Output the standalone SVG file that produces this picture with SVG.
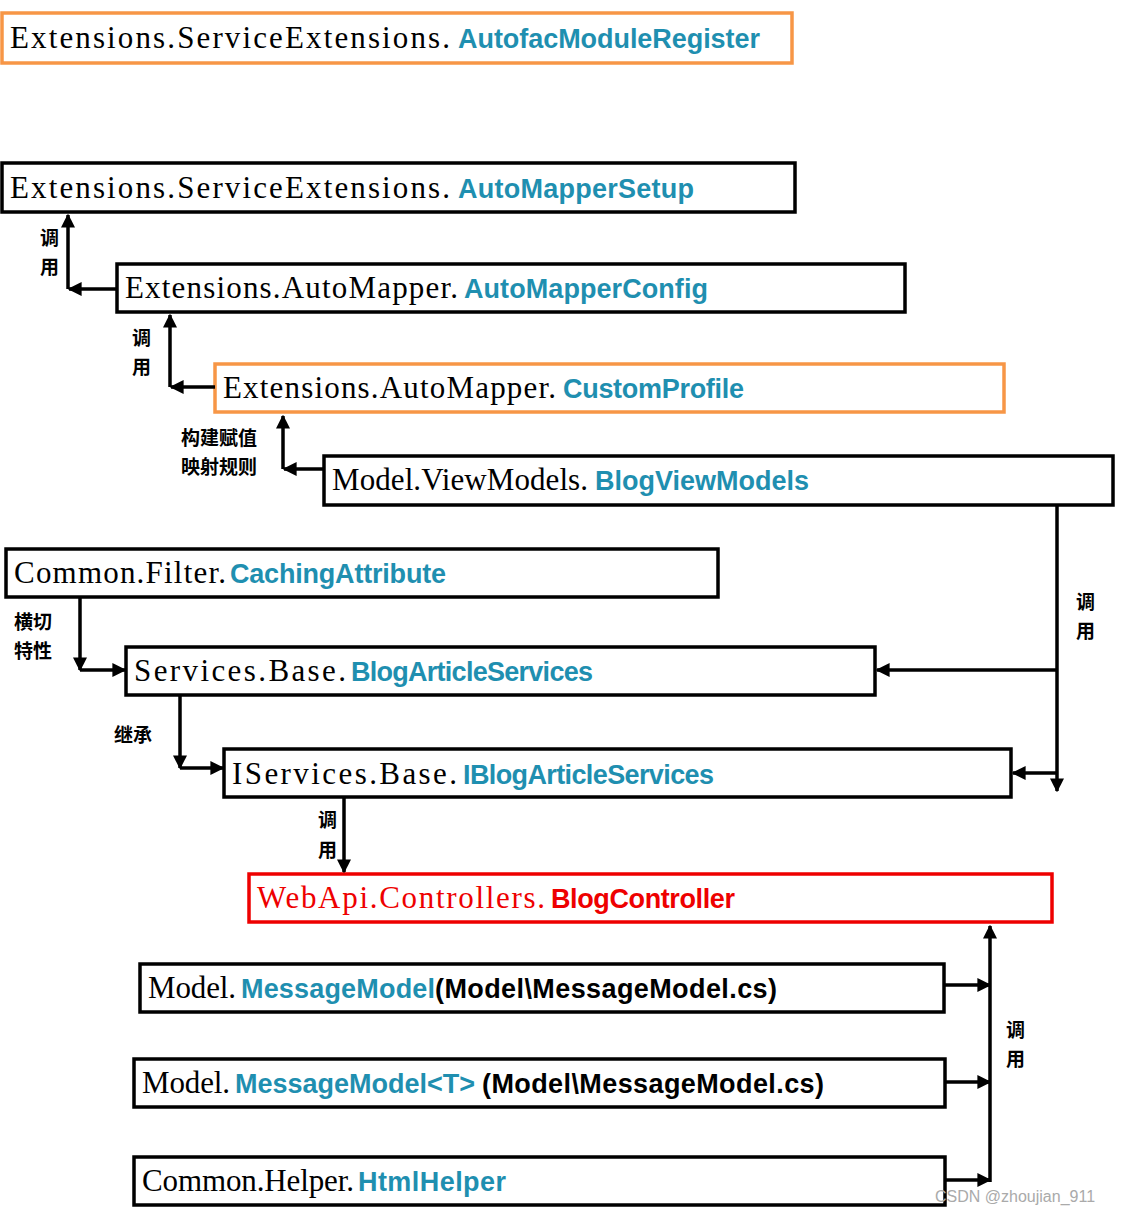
<svg xmlns="http://www.w3.org/2000/svg" width="1122" height="1215" viewBox="0 0 1122 1215">
<style>
rect{fill:#fff;stroke:#000;stroke-width:3.5}
.o{stroke:#f79646}
.r{stroke:#e00}
.t{font-family:"Liberation Serif","Noto Sans CJK SC",serif;font-size:31px;fill:#000}
.b{font-family:"Liberation Sans","Noto Sans CJK SC",sans-serif;font-weight:bold;font-size:27px;fill:#1f8fb0}
.k{fill:#000}
.red{fill:#e00}
.lb{font-family:"Noto Sans CJK SC",sans-serif;font-size:19px;font-weight:bold;fill:#000}
.c path{fill:none;stroke:#000;stroke-width:3.5}
</style>
<defs><marker id="a" viewBox="0 0 10 10" refX="9" refY="5" markerWidth="4" markerHeight="4" orient="auto" markerUnits="strokeWidth"><path d="M0,0L10,5L0,10z" fill="#000"/></marker></defs>
<rect width="1122" height="1215" style="stroke:none"/>
<g id="n1"><rect class="o" x="2" y="13" width="790" height="50"/><text x="10" y="48" class="t"><tspan textLength="440">Extensions.ServiceExtensions.</tspan><tspan class="b" x="458" textLength="302">AutofacModuleRegister</tspan></text></g>
<g id="n2"><rect x="2" y="163" width="793" height="49"/><text x="10" y="198" class="t"><tspan textLength="440">Extensions.ServiceExtensions.</tspan><tspan class="b" x="458" textLength="236">AutoMapperSetup</tspan></text></g>
<g id="n3"><rect x="117" y="264" width="788" height="48"/><text x="125" y="298" class="t"><tspan textLength="333">Extensions.AutoMapper.</tspan><tspan class="b" x="464" textLength="244">AutoMapperConfig</tspan></text></g>
<g id="n4"><rect class="o" x="215" y="364" width="789" height="48"/><text x="223" y="398" class="t"><tspan textLength="333">Extensions.AutoMapper.</tspan><tspan class="b" x="563" textLength="181">CustomProfile</tspan></text></g>
<g id="n5"><rect x="324" y="456" width="789" height="49"/><text x="332" y="490" class="t"><tspan textLength="256">Model.ViewModels.</tspan><tspan class="b" x="595" textLength="214">BlogViewModels</tspan></text></g>
<g id="n6"><rect x="6" y="549" width="712" height="48"/><text x="14" y="583" class="t"><tspan textLength="212">Common.Filter.</tspan><tspan class="b" x="230" textLength="216">CachingAttribute</tspan></text></g>
<g id="n7"><rect x="126" y="647" width="749" height="48"/><text x="134" y="681" class="t"><tspan textLength="212">Services.Base.</tspan><tspan class="b" x="351" textLength="242">BlogArticleServices</tspan></text></g>
<g id="n8"><rect x="224" y="749" width="787" height="48"/><text x="232" y="784" class="t"><tspan textLength="225">IServices.Base.</tspan><tspan class="b" x="463" textLength="251">IBlogArticleServices</tspan></text></g>
<g id="n9"><rect class="r" x="249" y="874" width="803" height="48"/><text x="257" y="908" class="t red"><tspan textLength="288">WebApi.Controllers.</tspan><tspan class="b red" x="551" textLength="184">BlogController</tspan></text></g>
<g id="n10"><rect x="140" y="964" width="804" height="48"/><text x="148" y="998" class="t"><tspan textLength="88">Model.</tspan><tspan class="b" x="241" textLength="194">MessageModel</tspan><tspan class="b k" x="435" textLength="342">(Model\MessageModel.cs)</tspan></text></g>
<g id="n11"><rect x="134" y="1059" width="811" height="48"/><text x="142" y="1093" class="t"><tspan textLength="88">Model.</tspan><tspan class="b" x="235" textLength="240">MessageModel&lt;T&gt;</tspan><tspan class="b k" x="482" textLength="342">(Model\MessageModel.cs)</tspan></text></g>
<g id="n12"><rect x="134" y="1157" width="811" height="48"/><text x="142" y="1191" class="t"><tspan textLength="212">Common.Helper.</tspan><tspan class="b" x="358" textLength="148">HtmlHelper</tspan></text></g>
<g class="c" id="connectors">
<path d="M117,289H69" marker-end="url(#a)"/><path d="M68,289V215" marker-end="url(#a)"/>
<path d="M215,387H171" marker-end="url(#a)"/><path d="M170,387V315" marker-end="url(#a)"/>
<path d="M324,469H284" marker-end="url(#a)"/><path d="M283,469V416" marker-end="url(#a)"/>
<path d="M80,597V670" marker-end="url(#a)"/><path d="M80,670H125" marker-end="url(#a)"/>
<path d="M180,695V768" marker-end="url(#a)"/><path d="M180,768H223" marker-end="url(#a)"/>
<path d="M1057,505V791" marker-end="url(#a)"/><path d="M1057,670H877" marker-end="url(#a)"/><path d="M1057,773H1013" marker-end="url(#a)"/>
<path d="M344,797V872" marker-end="url(#a)"/>
<path d="M944,985H990" marker-end="url(#a)"/><path d="M945,1082H990" marker-end="url(#a)"/><path d="M945,1180H990" marker-end="url(#a)"/>
<path d="M990,1182V926" marker-end="url(#a)"/>
</g>
<g id="labels">
<text class="lb" x="40" y="245">调</text><text class="lb" x="40" y="274">用</text>
<text class="lb" x="132" y="345">调</text><text class="lb" x="132" y="374">用</text>
<text class="lb" x="181" y="445">构建赋值</text><text class="lb" x="181" y="474">映射规则</text>
<text class="lb" x="1076" y="609">调</text><text class="lb" x="1076" y="638">用</text>
<text class="lb" x="14" y="629">横切</text><text class="lb" x="14" y="658">特性</text>
<text class="lb" x="114" y="742">继承</text>
<text class="lb" x="318" y="827">调</text><text class="lb" x="318" y="857">用</text>
<text class="lb" x="1006" y="1037">调</text><text class="lb" x="1006" y="1066">用</text>
<text x="935" y="1202" style="font-family:'Liberation Sans',sans-serif;font-size:16px;fill:#aaa">CSDN @zhoujian_911</text>
</g>
</svg>
